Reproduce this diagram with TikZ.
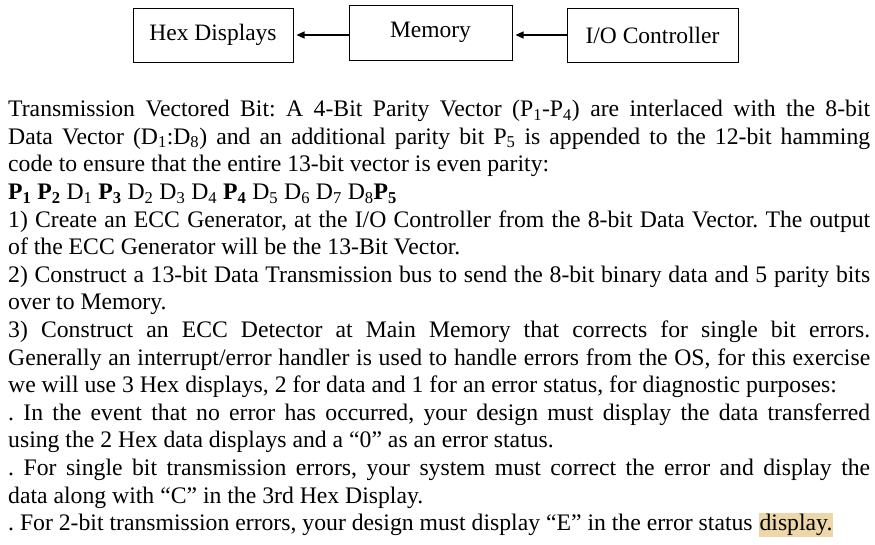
\documentclass[tikz,border=0pt]{standalone}
\usepackage{fontspec}
\setmainfont{Liberation Serif}
\usetikzlibrary{arrows.meta}
\definecolor{hl}{RGB}{236,214,170}
\begin{document}
\begin{tikzpicture}[x=1pt,y=-1pt,
  blk/.style={draw,line width=1pt,inner sep=0pt,font=\fontsize{23.5}{26}\selectfont},
  conn/.style={line width=1.2pt,-{Triangle[length=8pt,width=7pt]},shorten >=3pt}]
\useasboundingbox (0,0) rectangle (875,544);
\node[blk,minimum width=160pt,minimum height=54pt] (hex) at (213,35) {Hex Displays};
\node[blk,minimum width=163pt,minimum height=55pt] (mem) at (430.5,32.5) {Memory};
\node[blk,minimum width=171pt,minimum height=54pt] (io) at (652.5,35) {I/O Controller};
\draw[conn] (mem.west |- hex.east) -- (hex.east);
\draw[conn] (io.west) -- (mem.east |- io.west);
\node[anchor=north west,inner sep=0pt,text width=862pt,align=justify,
  font=\fontsize{23.7}{27.6}\selectfont] (txt) at (8,100) {%
\parindent0pt\parfillskip=0pt plus 1fil\frenchspacing
Transmission Vectored Bit: A 4-Bit Parity Vector (P\textsubscript{1}-P\textsubscript{4}) are interlaced with the 8-bit\linebreak{} Data Vector (D\textsubscript{1}:D\textsubscript{8}) and an additional parity bit P\textsubscript{5} is appended to the 12-bit hamming\linebreak{} code to ensure that the entire 13-bit vector is even parity:\par
\textbf{P\textsubscript{1} P\textsubscript{2}} D\textsubscript{1} \textbf{P\textsubscript{3}} D\textsubscript{2} D\textsubscript{3} D\textsubscript{4} \textbf{P\textsubscript{4}} D\textsubscript{5} D\textsubscript{6} D\textsubscript{7} D\textsubscript{8}\textbf{P\textsubscript{5}}\par
1) Create an ECC Generator, at the I/O Controller from the 8-bit Data Vector. The output\linebreak{} of the ECC Generator will be the 13-Bit Vector.\par
2) Construct a 13-bit Data Transmission bus to send the 8-bit binary data and 5 parity bits\linebreak{} over to Memory.\par
3) Construct an ECC Detector at Main Memory that corrects for single bit errors.\linebreak{} Generally an interrupt/error handler is used to handle errors from the OS, for this exercise\linebreak{} we will use 3 Hex displays, 2 for data and 1 for an error status, for diagnostic purposes:\par
. In the event that no error has occurred, your design must display the data transferred\linebreak{} using the 2 Hex data displays and a “0” as an error status.\par
. For single bit transmission errors, your system must correct the error and display the\linebreak{} data along with “C” in the 3rd Hex Display.\par
. For 2-bit transmission errors, your design must display “E” in the error status {\setlength{\fboxsep}{1pt}\colorbox{hl}{display.}}\par};
\end{tikzpicture}
\end{document}
